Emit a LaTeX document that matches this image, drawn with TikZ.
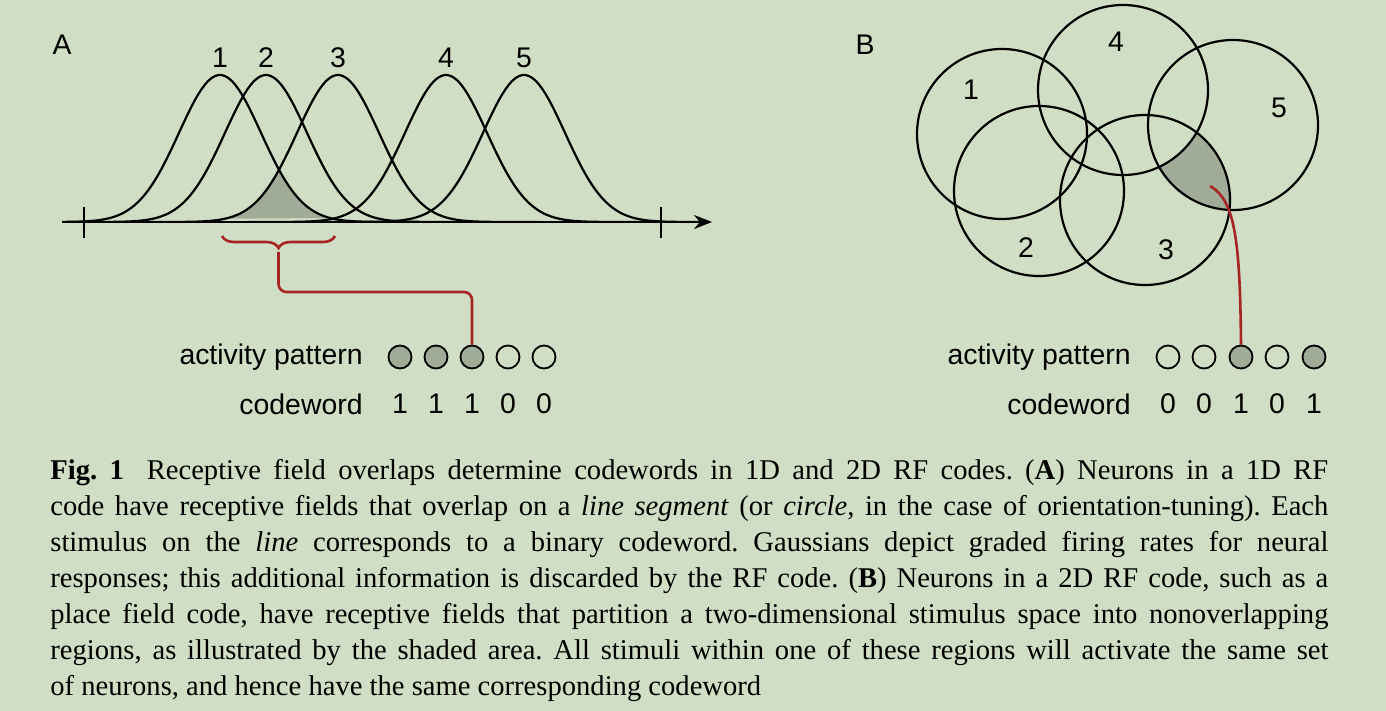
\documentclass[tikz,border=0pt]{standalone}
\usepackage{fontspec}
\setmainfont{Liberation Serif}
\setsansfont{Liberation Sans}
\usetikzlibrary{arrows.meta,decorations.pathreplacing}
\definecolor{bgcol}{RGB}{207,222,196}
\definecolor{shadecol}{RGB}{160,172,152}
\definecolor{linkred}{RGB}{168,36,36}
\newcommand{\gausscurve}[1]{%
  plot[domain={#1-200}:{#1+200},samples=120] (\x,{222-147*exp(-((\x-#1)/41)^2/2)})}
\begin{document}
\begin{tikzpicture}[x=0.5pt,y=-0.5pt,
    curve/.style={line width=1.1pt},
    unit/.style={circle,draw,line width=0.9pt,minimum size=11.5pt,inner sep=0pt},
    on/.style={unit,fill=shadecol},
    lbl/.style={font=\sffamily\fontsize{14.2}{16}\selectfont,inner sep=0pt},
    link/.style={draw=linkred,line width=1.3pt}]
  \fill[bgcol] (0,0) rectangle (1386,711);
  \useasboundingbox (0,0) rectangle (1386,711);
  % panel A
  \node[lbl] (pa) at (62,45) {A};
  \fill[shadecol] plot[domain=225:280,samples=30] (\x,{222-147*exp(-((\x-338)/41)^2/2)})
    -- plot[domain=280:330,samples=30] (\x,{222-147*exp(-((\x-220)/41)^2/2)}) -- cycle;
  \begin{scope}
    \clip (62,0) rectangle (700,222.5);
    \foreach \c in {220,266,338,446,524} \draw[curve] \gausscurve{\c};
  \end{scope}
  \foreach \c/\t in {220/1,266/2,338/3,446/4,524/5}
    \node[lbl] (g\t) at (\c,58) {\t};
  \draw[curve,-{Stealth[length=9pt,width=7pt]}] (62,222) -- (712,222);
  \draw[curve] (84,207) -- (84,238);
  \draw[curve] (661,207) -- (661,238);
  \draw[link,decorate,decoration={brace,mirror,amplitude=6pt}] (222,236) -- (335,236);
  \coordinate (tipa) at (278.5,252);
  \node[lbl,anchor=east] (acta) at (363,357) {activity pattern};
  \node[lbl,anchor=east] (codea) at (363,404) {codeword};
  \foreach \i/\x/\s/\d in {1/400/on/1,2/436/on/1,3/472/on/1,4/508/unit/0,5/544/unit/0} {
    \node[\s] (a\i) at (\x,357) {};
    \node[lbl] (da\i) at (\x,404) {\d};
  }
  \draw[link,rounded corners=4pt] (tipa) |- (472,292) -- (a3.north);
  % panel B
  \node[lbl] (pb) at (865,45) {B};
  \begin{scope}
    \clip (1145,200) circle (85);
    \clip (1233,125) circle (85);
    \fill[shadecol] (1233,125) circle (85);
    \fill[bgcol] (1123,90) circle (85);
  \end{scope}
  \foreach \t/\x/\y in {1/1002/134,4/1123/90,5/1233/125,2/1039/191,3/1145/200}
    \draw[curve] (\x,\y) circle (85);
  \foreach \t/\x/\y in {1/971/90,4/1116/42,5/1279/108,2/1026/248,3/1166/250}
    \node[lbl] (r\t) at (\x,\y) {\t};
  \coordinate (tipb) at (1210,186);
  \node[lbl,anchor=east] (actb) at (1131,357) {activity pattern};
  \node[lbl,anchor=east] (codeb) at (1131,404) {codeword};
  \foreach \i/\x/\s/\d in {1/1168/unit/0,2/1204/unit/0,3/1241/on/1,4/1277/unit/0,5/1314/on/1} {
    \node[\s] (b\i) at (\x,357) {};
    \node[lbl] (db\i) at (\x,404) {\d};
  }
  \draw[link] (tipb) .. controls (1235,200) and (1240,240) .. (b3.north);
  % caption
  \node[anchor=north west,inner sep=0pt,text width=639pt,align=justify,
        font=\fontsize{14.3}{18}\selectfont] (cap) at (50,459) {\frenchspacing
    \textbf{Fig.~1}\hspace{0.8em}Receptive field overlaps determine codewords in 1D and 2D RF codes. (\textbf{A}) Neurons in a 1D RF\linebreak
    code have receptive fields that overlap on a \textit{line segment} (or \textit{circle}, in the case of orientation-tuning). Each\linebreak
    stimulus on the \textit{line} corresponds to a binary codeword. Gaussians depict graded firing rates for neural\linebreak
    responses; this additional information is discarded by the RF code. (\textbf{B}) Neurons in a 2D RF code, such as a\linebreak
    place field code, have receptive fields that partition a two-dimensional stimulus space into nonoverlapping\linebreak
    regions, as illustrated by the shaded area. All stimuli within one of these regions will activate the same set\linebreak
    of neurons, and hence have the same corresponding codeword};
\end{tikzpicture}
\end{document}
